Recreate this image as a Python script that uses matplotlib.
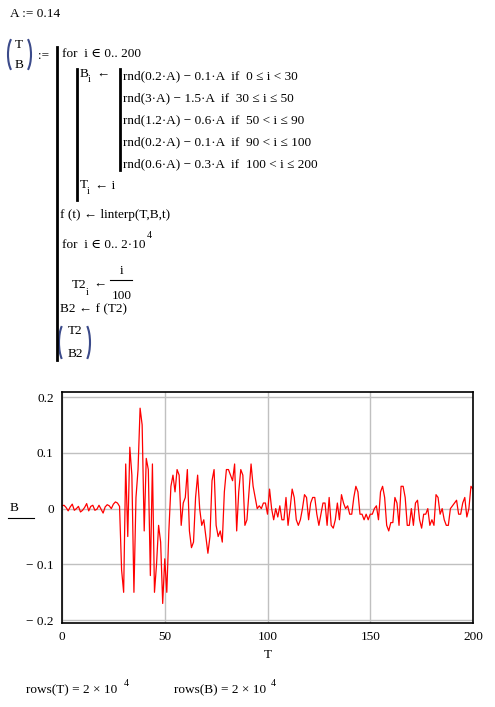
import numpy as np
import matplotlib
matplotlib.use('Agg')
import matplotlib.pyplot as plt
from matplotlib.lines import Line2D
from matplotlib.patches import Arc

W, H = 495, 707

# B values, index T = 0..200
b_small = [0.005, 0.006, 0.002, -0.004, 0.003, 0.008, -0.003, 0.0, 0.004, -0.006,
           -0.003, 0.002, 0.009, -0.004, 0.004, 0.006, -0.003, -0.001, 0.006, -0.001,
           -0.008, 0.003, 0.007, 0.005, 0.0, 0.008, 0.012, 0.010, 0.004]
b_big = [-0.11, -0.15, 0.08, -0.05, 0.11, 0.06, -0.15, 0.02, 0.07, 0.18, 0.15,
         -0.04, 0.09, 0.07, -0.12, 0.08, -0.15, -0.10, -0.03, -0.06, -0.17, -0.09]
b_mid = [-0.15, -0.04, 0.04, 0.06, 0.03, 0.07, 0.06, -0.03, 0.01, 0.02,
         0.07, -0.04, -0.07, -0.06, 0.02, 0.06, 0.0, -0.03, -0.02, -0.05,
         -0.08, -0.05, 0.05, 0.07, -0.03, -0.05, -0.04, -0.06, 0.03, 0.07,
         0.07, 0.06, 0.05, 0.08, -0.04, 0.03, 0.07, 0.06, -0.03, -0.02]
b_quiet = [0.03, 0.08, 0.04, 0.02, 0.0, 0.005, 0.0, 0.01, 0.01, -0.01]
b_tail = [0.035, 0.0, -0.02, 0.0, -0.015, 0.005, -0.02, -0.02, 0.02, -0.03,
          0.0, 0.035, 0.02, -0.02, -0.03, -0.02, 0.0, 0.025, 0.02, -0.02,
          0.01, 0.02, 0.02, -0.01, -0.03, -0.01, 0.01, 0.01, -0.03, 0.02,
          -0.03, -0.035, -0.02, 0.01, -0.02, 0.025, 0.01, 0.0, 0.005, -0.01,
          -0.01, 0.02, 0.04, 0.03, -0.01, -0.01, -0.02, -0.01, -0.02, -0.01,
          -0.01, 0.0, 0.005, -0.02, 0.03, 0.04, 0.02, -0.03, -0.04, -0.025,
          -0.025, 0.02, 0.01, -0.03, 0.04, 0.04, 0.02, -0.03, -0.03, 0.0,
          -0.03, 0.01, 0.015, -0.02, -0.035, -0.01, -0.01, 0.0, -0.03, -0.02,
          -0.03, 0.025, 0.02, -0.01, 0.0, -0.02, -0.03, -0.03, 0.0, 0.005,
          0.01, 0.015, -0.01, -0.01, 0.01, 0.02, -0.015, 0.0, 0.04, 0.035]
B = b_small + b_big + b_mid + b_quiet + b_tail
T = list(range(len(B)))

x_ticks = [0, 50, 100, 150, 200]
y_ticks = [-0.2, -0.1, 0, 0.1, 0.2]
y_labels = ['\u2212 0.2', '\u2212 0.1', '0', '0.1', '0.2']

plt.rcParams['font.family'] = ['Liberation Serif', 'DejaVu Serif']
fig = plt.figure(figsize=(W / 100, H / 100), dpi=100)
fs = 9.5
navy = '#3b4a8a'


def txt(x, y, s, size=fs, **kw):
    fig.text(x / W, 1 - y / H, s, fontsize=size, va='center', **kw)


def vline(x, y0, y1, lw=2):
    fig.add_artist(Line2D([x / W, x / W], [1 - y0 / H, 1 - y1 / H], color='black', lw=lw))


def hline(x0, x1, y, lw=0.8):
    fig.add_artist(Line2D([x0 / W, x1 / W], [1 - y / H, 1 - y / H], color='black', lw=lw))


def parens(x0, x1, y0, y1):
    # pair of round brackets spanning x0..x1, y0..y1 in pixels
    cy = 1 - (y0 + y1) / 2 / H
    h = (y1 - y0) / H
    w = 14 / W
    fig.add_artist(Arc((x0 / W + w / 2, cy), w, h, theta1=110, theta2=250,
                       color=navy, lw=1.5, transform=fig.transFigure))
    fig.add_artist(Arc((x1 / W - w / 2, cy), w, h, theta1=-70, theta2=70,
                       color=navy, lw=1.5, transform=fig.transFigure))


# formula block
txt(10, 14, 'A := 0.14')
parens(8, 31, 36, 73)
txt(15, 45, 'T')
txt(15, 65, 'B')
txt(38, 56, ':=')
vline(57, 47, 360)
txt(62, 54, 'for  i \u2208 0.. 200')
vline(77, 69, 200)
txt(80, 74, 'B')
txt(88, 80, 'i', size=7)
txt(96, 75, '\u2190')
vline(120, 69, 170)
cases = ['rnd(0.2\u00b7A) \u2212 0.1\u00b7A  if  0 \u2264 i < 30',
         'rnd(3\u00b7A) \u2212 1.5\u00b7A  if  30 \u2264 i \u2264 50',
         'rnd(1.2\u00b7A) \u2212 0.6\u00b7A  if  50 < i \u2264 90',
         'rnd(0.2\u00b7A) \u2212 0.1\u00b7A  if  90 < i \u2264 100',
         'rnd(0.6\u00b7A) \u2212 0.3\u00b7A  if  100 < i \u2264 200']
for k, c in enumerate(cases):
    txt(123, 76 + 22 * k, c)
txt(80, 185, 'T')
txt(87, 191, 'i', size=7)
txt(95, 186, '\u2190 i')
txt(60, 215, 'f (t) \u2190 linterp(T,B,t)')
txt(62, 245, 'for  i \u2208 0.. 2\u00b710')
txt(147, 236, '4', size=7)
txt(72, 285, 'T2')
txt(86, 292, 'i', size=7)
txt(93, 285, '\u2190')
txt(120, 271, 'i')
hline(110, 132, 280)
txt(112, 296, '100')
txt(60, 309, 'B2 \u2190 f (T2)')
parens(59, 90, 322, 363)
txt(68, 331, 'T2')
txt(68, 354, 'B2')

# chart
ax = fig.add_axes([62 / W, 1 - 623 / H, (473 - 62) / W, (623 - 392) / H])
ax.plot(T, B, color='red', lw=0.9)
ax.set_xlim(0, 200)
ax.set_ylim(-0.205, 0.209)
ax.set_xticks(x_ticks)
ax.set_yticks(y_ticks)
ax.set_yticklabels(y_labels)
ax.grid(True, color='#c0c0c0', lw=1)
ax.tick_params(length=0, labelsize=fs, pad=6)
for s in ax.spines.values():
    s.set_linewidth(1.2)
txt(268, 655, 'T', ha='center')
txt(10, 508, 'B')
hline(8, 34, 518, lw=0.8)

txt(26, 690, 'rows(T) = 2 \u00d7 10')
txt(124, 683, '4', size=7)
txt(174, 690, 'rows(B) = 2 \u00d7 10')
txt(271, 683, '4', size=7)

fig.savefig('out.png', dpi=100)
